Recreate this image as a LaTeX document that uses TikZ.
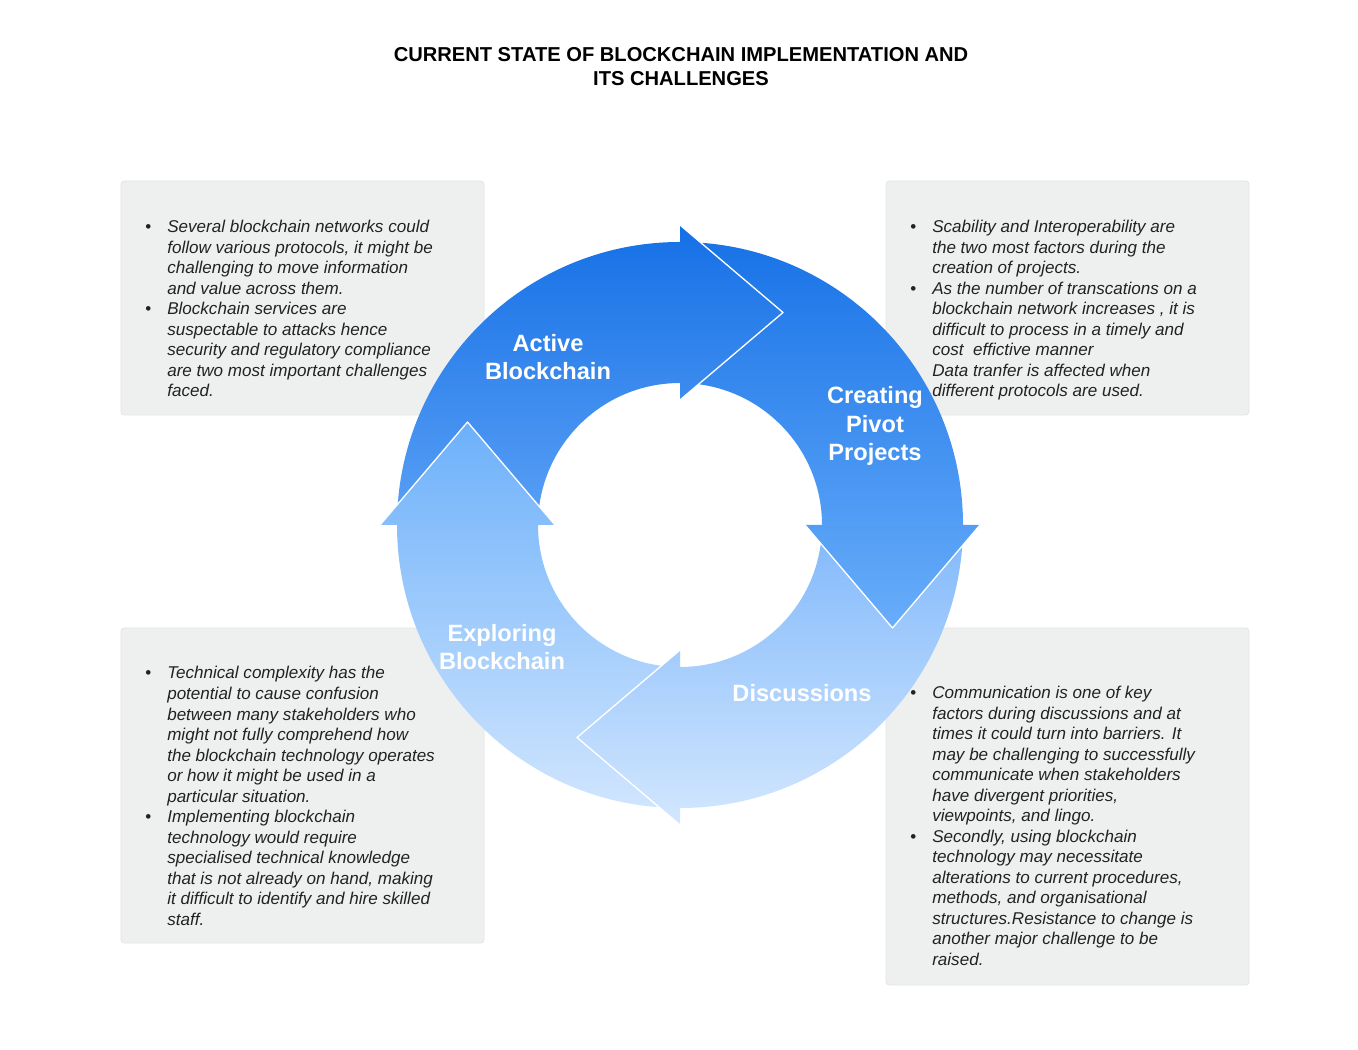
\documentclass[tikz,border=0pt]{standalone}
\usepackage{fontspec}
\setmainfont{Liberation Sans}
\usetikzlibrary{calc}
\definecolor{boxfill}{HTML}{EEF0F0}
\definecolor{boxline}{HTML}{E3E5E5}
\definecolor{txt}{HTML}{222222}
\definecolor{actA}{HTML}{1570E6}
\definecolor{actB}{HTML}{5AA0F5}
\definecolor{creA}{HTML}{1671E6}
\definecolor{creB}{HTML}{68ADFA}
\definecolor{disA}{HTML}{80B8FB}
\definecolor{disB}{HTML}{D3E7FE}
\definecolor{expA}{HTML}{6CB0FA}
\definecolor{expB}{HTML}{D0E5FE}
\newcommand{\bul}{\llap{{\upshape\textbullet}\hspace{12pt}}}
\newcommand{\ringseg}[2]{($(C)+(#1:283)$) arc[start angle=#1, end angle=#2, radius=283] -- ($(C)+(#2:142)$) arc[start angle=#2, end angle=#1, radius=142] -- cycle}
\begin{document}
\begin{tikzpicture}[x=0.75pt,y=0.75pt,
  infobox/.style={fill=boxfill, draw=boxline, line width=0.6pt, rounded corners=2.5pt},
  bodytext/.style={anchor=base west, inner sep=0pt, align=left, text=txt,
    font={\fontsize{12.8}{15.375}\selectfont\itshape}},
  seglabel/.style={align=center, inner sep=0pt, text=white,
    font={\fontsize{17.7}{21.4}\selectfont\bfseries}},
  edge/.style={draw=white, line width=1pt, line join=round, line cap=round}]
\useasboundingbox (0,0) rectangle (1358,1049);
\fill[white] (0,0) rectangle (1358,1049);

% title
\node[align=center, inner sep=0pt, font={\fontsize{15.1}{18}\selectfont\bfseries}] (title) at (681,982)
  {CURRENT STATE OF BLOCKCHAIN IMPLEMENTATION AND\\ITS CHALLENGES};

% boxes
\path[infobox] (121,634) rectangle (484,868);
\path[infobox] (886,634) rectangle (1249,868);
\path[infobox] (121,106) rectangle (484,421);
\path[infobox] (886,64) rectangle (1249,421);

% (base anchor = baseline of the last line)
\node[bodytext] (tltext) at (167,652) {\bul Several blockchain networks could\\
follow various protocols, it might be\\
challenging to move information\\
and value across them.\\
\bul Blockchain services are\\
suspectable to attacks hence\\
security and regulatory compliance\\
are two most important challenges\\
faced.};

\node[bodytext] (trtext) at (932,652) {\bul Scability and Interoperability are\\
the two most factors during the\\
creation of projects.\\
\bul As the number of transcations on a\\
blockchain network increases , it is\\
difficult to process in a timely and\\
cost\ \ effictive manner\\
Data tranfer is affected when\\
different protocols are used.};

\node[bodytext] (bltext) at (167,124) {\bul Technical complexity has the\\
potential to cause confusion\\
between many stakeholders who\\
might not fully comprehend how\\
the blockchain technology operates\\
or how it might be used in a\\
particular situation.\\
\bul Implementing blockchain\\
technology would require\\
specialised technical knowledge\\
that is not already on hand, making\\
it difficult to identify and hire skilled\\
staff.};

\node[bodytext] (brtext) at (932,84) {\bul Communication is one of key\\
factors during discussions and at\\
times it could turn into barriers. It\\
may be challenging to successfully\\
communicate when stakeholders\\
have divergent priorities,\\
viewpoints, and lingo.\\
\bul Secondly, using blockchain\\
technology may necessitate\\
alterations to current procedures,\\
methods, and organisational\\
structures.Resistance to change is\\
another major challenge to be\\
raised.};

% ring
\coordinate (C) at (680,524);
% arrowhead corner coordinates
\coordinate (aI) at ($(C)+(0,125)$);  \coordinate (aO) at ($(C)+(0,300)$);  \coordinate (aT) at ($(C)+(103,212.5)$);
\coordinate (cI) at ($(C)+(125,0)$);  \coordinate (cO) at ($(C)+(300,0)$);  \coordinate (cT) at ($(C)+(212.5,-103)$);
\coordinate (dI) at ($(C)+(0,-125)$); \coordinate (dO) at ($(C)+(0,-300)$); \coordinate (dT) at ($(C)+(-103,-212.5)$);
\coordinate (eI) at ($(C)+(-125,0)$); \coordinate (eO) at ($(C)+(-300,0)$); \coordinate (eT) at ($(C)+(-212.5,103)$);

% bodies
\begin{scope}\clip \ringseg{180}{90};
  \shade[top color=actA, bottom color=actB] (360,824) rectangle (1000,524);\end{scope}
\begin{scope}\clip \ringseg{90}{0};
  \shade[top color=creA, bottom color=creB] (360,824) rectangle (1000,421);\end{scope}
\begin{scope}\clip \ringseg{0}{-90};
  \shade[top color=disA, bottom color=disB] (360,524) rectangle (1000,224);\end{scope}
\begin{scope}\clip \ringseg{-90}{-180};
  \shade[top color=expA, bottom color=expB] (360,629) rectangle (1000,242);\end{scope}

% arrowheads
\begin{scope}\clip (aI) -- (aO) -- (aT) -- cycle;
  \shade[top color=actA, bottom color=actB] (360,824) rectangle (1000,524);\end{scope}
\begin{scope}\clip (cI) -- (cO) -- (cT) -- cycle;
  \shade[top color=creA, bottom color=creB] (360,824) rectangle (1000,421);\end{scope}
\begin{scope}\clip (dI) -- (dO) -- (dT) -- cycle;
  \shade[top color=disA, bottom color=disB] (360,524) rectangle (1000,224);\end{scope}
\begin{scope}\clip (eI) -- (eO) -- (eT) -- cycle;
  \shade[top color=expA, bottom color=expB] (360,629) rectangle (1000,242);\end{scope}

% white edges
\draw[edge] (aO) -- (aT) -- (aI);
\draw[edge] (cO) -- (cT) -- (cI);
\draw[edge] (dO) -- (dT) -- (dI);
\draw[edge] (eO) -- (eT) -- (eI);

% labels
\node[seglabel] (lactive) at (548,692) {Active\\Blockchain};
\node[seglabel] (lcreate) at (875,623) {Creating\\Pivot\\Projects};
\node[seglabel] (ldisc) at (802,356) {Discussions};
\node[seglabel] (lexpl) at (502,402) {Exploring\\Blockchain};
\end{tikzpicture}
\end{document}
